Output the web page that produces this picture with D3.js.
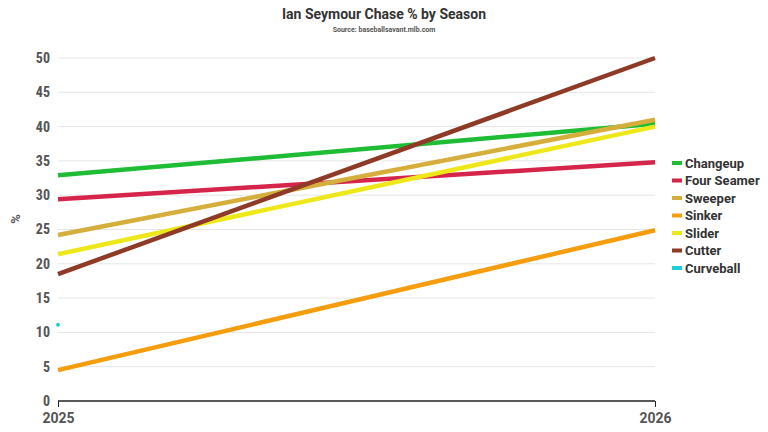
<!DOCTYPE html>
<html><head><meta charset="utf-8">
<script src="https://cdn.jsdelivr.net/npm/d3@7"></script>
<style>body{margin:0;background:#fff;font-family:Roboto,sans-serif;}</style>
</head><body>
<svg id="c" width="768" height="432"></svg>
<script>
// data
var seasons = [2025, 2026];
var pitchNames = ["Changeup", "Four Seamer", "Sweeper", "Sinker", "Slider", "Cutter", "Curveball"];
var pitchColors = ["#1fbd35", "#d5254a", "#d6ae3c", "#f59d0c", "#eee81b", "#8e3a27", "#1ccfd6"];
var chaseValues = [
  [32.9, 40.4],
  [29.4, 34.8],
  [24.2, 41.0],
  [4.5, 24.9],
  [21.4, 40.0],
  [18.5, 50.0],
  [11.1, null]
];
var yTicks = [0, 5, 10, 15, 20, 25, 30, 35, 40, 45, 50];

var svg = d3.select("#c");
var x = d3.scaleLinear().domain([2025, 2026]).range([58, 655]);
var y = d3.scaleLinear().domain([0, 50]).range([401, 58]);

// grid
svg.append("g").selectAll("line").data(yTicks).enter().append("line")
  .attr("x1", 58).attr("x2", 655)
  .attr("y1", function(d){return y(d);}).attr("y2", function(d){return y(d);})
  .attr("stroke", function(d){return d === 0 ? "#222" : "#e6e6e6";})
  .attr("stroke-width", function(d){return d === 0 ? 1.5 : 1;});

var yAxis = svg.append("g").attr("transform", "translate(50,0)")
  .call(d3.axisLeft(y).tickValues(yTicks).tickSize(0).tickPadding(0));
yAxis.select(".domain").remove();
yAxis.selectAll("text").attr("font-size", 14).attr("font-weight", "bold").attr("fill", "#555")
  .attr("font-family", "Roboto").attr("font-stretch", "condensed");

var xAxis = svg.append("g").attr("transform", "translate(0,401)")
  .call(d3.axisBottom(x).tickValues(seasons).tickFormat(d3.format("d")).tickSize(6));
xAxis.select(".domain").remove();
xAxis.selectAll("line").attr("stroke", "#222");
xAxis.selectAll("text").attr("font-size", 14).attr("font-weight", "bold").attr("fill", "#555")
  .attr("font-family", "Roboto").attr("dy", "0.9em");

// lines
var line = d3.line().defined(function(d){return d != null;})
  .x(function(d, i){return x(seasons[i]);}).y(function(d){return y(d);});
chaseValues.forEach(function(vals, k){
  var n = vals.filter(function(v){return v != null;}).length;
  if (n > 1) {
    svg.append("path").attr("d", line(vals)).attr("fill", "none")
      .attr("stroke", pitchColors[k]).attr("stroke-width", 4.5);
  } else {
    svg.append("circle").attr("cx", x(seasons[0])).attr("cy", y(vals[0])).attr("r", 2)
      .attr("fill", pitchColors[k]);
  }
});

// legend
var lg = svg.append("g").selectAll("g").data(pitchNames).enter().append("g")
  .attr("transform", function(d, i){return "translate(672," + (163 + i * 17.5) + ")";});
lg.append("rect").attr("x", 0).attr("y", -2).attr("width", 10).attr("height", 4)
  .attr("fill", function(d, i){return pitchColors[i];});
lg.append("text").attr("x", 13).attr("dy", "0.35em").text(function(d){return d;})
  .attr("font-size", 13).attr("font-weight", "bold").attr("fill", "#333");

// titles
svg.append("text").attr("x", 384).attr("y", 19).attr("text-anchor", "middle")
  .attr("font-size", 14).attr("font-weight", "bold").attr("fill", "#333")
  .text("Ian Seymour Chase % by Season");
svg.append("text").attr("x", 384).attr("y", 32).attr("text-anchor", "middle")
  .attr("font-size", 7).attr("font-weight", "bold").attr("fill", "#555")
  .text("Source: baseballsavant.mlb.com");
svg.append("text").attr("transform", "translate(20,219) rotate(-90)").attr("text-anchor", "middle")
  .attr("font-size", 13).attr("font-weight", "bold").attr("fill", "#555").text("%");
</script>
</body></html>
